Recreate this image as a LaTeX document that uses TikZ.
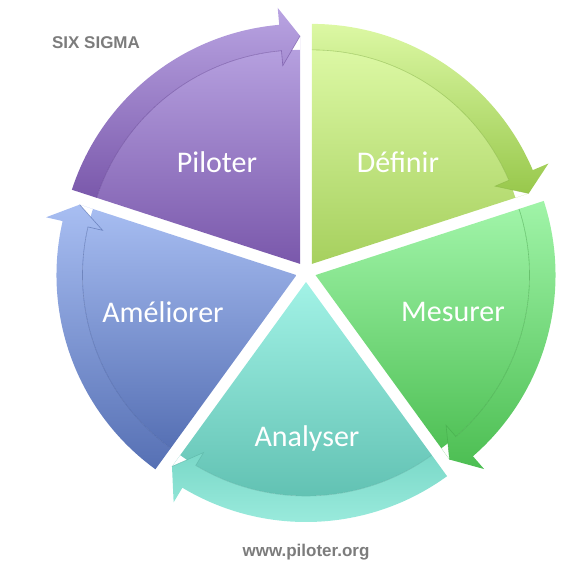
\documentclass[tikz,border=0pt]{standalone}
\usepackage{fontspec}
\setmainfont{Carlito}
\newfontfamily\webfont{Liberation Sans}

\definecolor{pilTop}{HTML}{B9A4E2}
\definecolor{pilBot}{HTML}{7A58AB}
\definecolor{pilLine}{HTML}{6A4A9A}
\definecolor{defTop}{HTML}{DCF8A4}
\definecolor{defBot}{HTML}{A6D05E}
\definecolor{defBand}{HTML}{98C84C}
\definecolor{defLine}{HTML}{8AB848}
\definecolor{mesTop}{HTML}{A0F4A8}
\definecolor{mesBot}{HTML}{4CBE52}
\definecolor{mesLine}{HTML}{44A84A}
\definecolor{anaTop}{HTML}{A2F2E6}
\definecolor{anaBot}{HTML}{5EBFB0}
\definecolor{anaBandTop}{HTML}{7AD8C8}
\definecolor{anaBandBot}{HTML}{A0EEE0}
\definecolor{anaLine}{HTML}{58B0A2}
\definecolor{ameTop}{HTML}{A8BEF2}
\definecolor{ameBot}{HTML}{5670B4}
\definecolor{ameLine}{HTML}{4C64A4}
\definecolor{brandGray}{HTML}{7C7C7C}

\tikzset{
  stage/.style={text=white, font=\fontsize{30}{36}\selectfont},
  brand/.style={text=brandGray, font=\webfont\bfseries\fontsize{17}{20}\selectfont},
}

% slice: #1 bisector, #2/#3 body colours, #4/#5 band colours, #6 edge line
\newcommand{\pieslice}[6]{%
  \begin{scope}[shift={(#1:10)}]
    \shade[top color=#2, bottom color=#3]
      (0,0) -- (#1+36:214) arc[start angle=#1+36, end angle=#1-36, radius=214]
      -- (#1-36:228) -- cycle;
    \shade[top color=#4, bottom color=#5]
      (#1+36:214) -- (#1+36:240) arc[start angle=#1+36, end angle=#1-31, radius=240]
      -- (#1-31:257) -- (#1-36:228) -- (#1-31:199) -- (#1-31:214)
      arc[start angle=#1-31, end angle=#1+36, radius=214] -- cycle;
    \draw[#6, line width=0.6pt, opacity=0.6]
      (#1+36:214) arc[start angle=#1+36, end angle=#1-31, radius=214]
      -- (#1-31:199) -- (#1-36:228);
  \end{scope}}

\begin{document}
\begin{tikzpicture}[x=1pt, y=1pt]

  \useasboundingbox (-306,-304) rectangle (277,272);

  % --- the five slices, clockwise from the top ---
  \pieslice{54}{defTop}{defBot}{defTop}{defBand}{defLine}
  \pieslice{-18}{mesTop}{mesBot}{mesTop}{mesBot}{mesLine}
  \pieslice{-90}{anaTop}{anaBot}{anaBandTop}{anaBandBot}{anaLine}
  \pieslice{198}{ameTop}{ameBot}{ameTop}{ameBot}{ameLine}
  \pieslice{126}{pilTop}{pilBot}{pilTop}{pilBot}{pilLine}

  % --- stage names ---
  \node[stage] (piloter)   at (-89,110)  {Piloter};
  \node[stage] (definir)   at (92,110)   {Définir};
  \node[stage] (mesurer)   at (147,-40)  {Mesurer};
  \node[stage] (analyser)  at (1,-166)   {Analyser};
  \node[stage] (ameliorer) at (-143,-40) {Améliorer};

  % --- titles ---
  \node[brand] (title) at (-210,229) {SIX SIGMA};
  \node[brand] (site)  at (0,-280)   {www.piloter.org};

\end{tikzpicture}
\end{document}
